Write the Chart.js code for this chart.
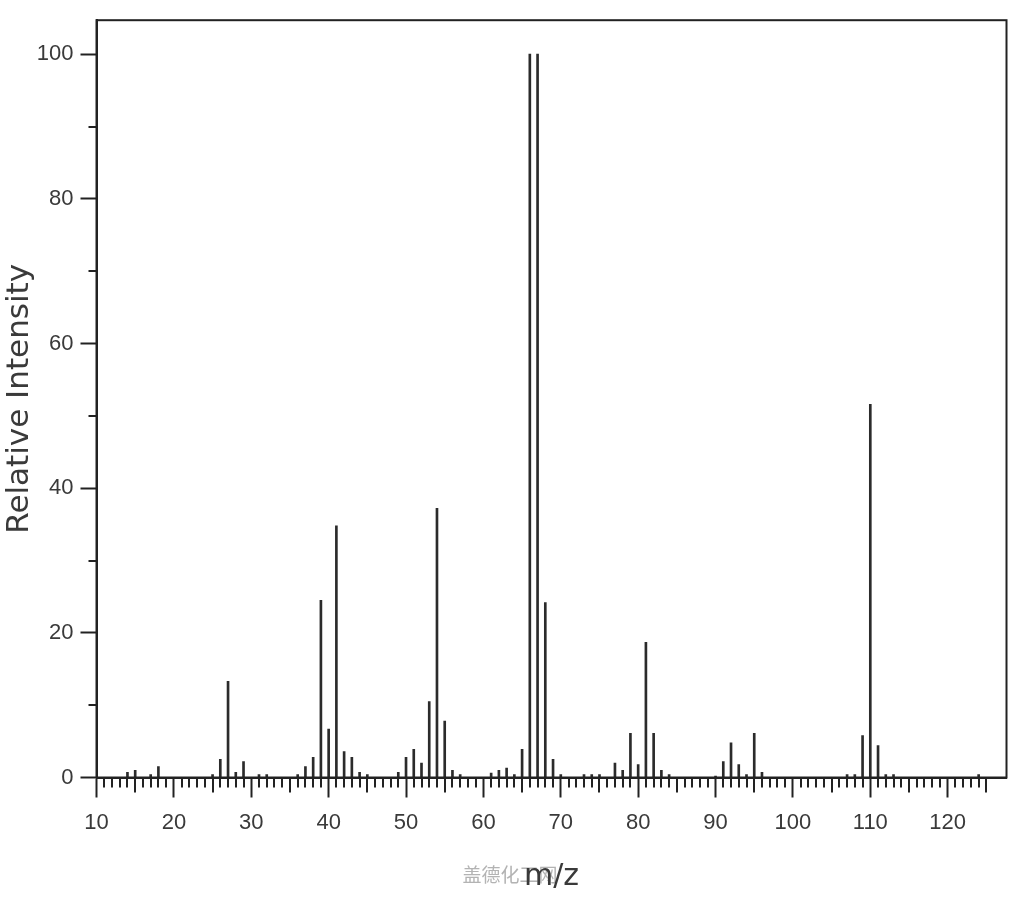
<!DOCTYPE html>
<html>
<head>
<meta charset="utf-8">
<script src="https://cdn.jsdelivr.net/npm/chart.js@4/dist/chart.umd.min.js"></script>
<style>
  body { margin: 0; background: #fff; }
  #wrap { width: 1024px; height: 900px; position: relative; }
</style>
</head>
<body>
<div id="wrap"><canvas id="myChart"></canvas></div>
<script>
// m/z values and relative intensities
const masas = [14, 15, 17, 18, 25, 26, 27, 28, 29, 31, 32, 36, 37, 38, 39, 40, 41, 42, 43, 44, 45,
  49, 50, 51, 52, 53, 54, 55, 56, 57, 61, 62, 63, 64, 65, 66, 67, 68, 69, 70, 73, 74, 75,
  77, 78, 79, 80, 81, 82, 83, 84, 90, 91, 92, 93, 94, 95, 96, 107, 108, 109, 110, 111, 112, 113, 124];
const intensidades = [0.7, 1.0, 0.4, 1.5, 0.4, 2.5, 13.3, 0.7, 2.2, 0.4, 0.4, 0.4, 1.5, 2.8, 24.5, 6.7, 34.8, 3.6, 2.8, 0.7, 0.4,
  0.7, 2.8, 3.9, 2.0, 10.5, 37.2, 7.8, 1.0, 0.4, 0.6, 1.0, 1.3, 0.4, 3.9, 100, 100, 24.2, 2.5, 0.4, 0.4, 0.4, 0.4,
  2.0, 1.0, 6.1, 1.8, 18.7, 6.1, 1.0, 0.4, 0.2, 2.2, 4.8, 1.8, 0.4, 6.1, 0.7, 0.4, 0.4, 5.8, 51.6, 4.4, 0.4, 0.4, 0.4];

const ejeXMin = 10;
const ejeXMax = 127.6;
const ejeXUltimoTick = 125;
const ejeYMax = 104.7;

const tituloX = "m/z";
const tituloY = "Relative Intensity";
const marcaAgua = "盖德化工网";

const colorLinea = "#222222";
const colorTexto = "#3a3a3a";

const puntos = masas.map((m, i) => ({ x: m, y: intensidades[i] }));

// ticks cortos, marco y marca de agua
const extras = {
  id: "extras",
  beforeDraw(chart) {
    const ctx = chart.ctx;
    ctx.save();
    ctx.font = '19px "Noto Sans CJK SC"';
    ctx.fillStyle = "#b3b3b3";
    ctx.textAlign = "center";
    ctx.textBaseline = "middle";
    ctx.fillText(marcaAgua, 510, 875);
    ctx.restore();
  },
  afterDraw(chart) {
    const ctx = chart.ctx;
    const area = chart.chartArea;
    const x = chart.scales.x;
    const y = chart.scales.y;
    ctx.save();
    ctx.strokeStyle = colorLinea;
    ctx.lineWidth = 2;
    ctx.beginPath();
    for (let m = ejeXMin + 1; m <= ejeXUltimoTick; m++) {
      if (m % 10 == 0) continue;
      const px = Math.round(x.getPixelForValue(m));
      const largo = m % 5 == 0 ? 15 : 10;
      ctx.moveTo(px, area.bottom);
      ctx.lineTo(px, area.bottom + largo);
    }
    for (let v = 10; v <= 90; v += 20) {
      const py = Math.round(y.getPixelForValue(v));
      ctx.moveTo(area.left, py);
      ctx.lineTo(area.left - 8, py);
    }
    ctx.stroke();
    ctx.strokeRect(area.left, area.top, area.right - area.left, area.bottom - area.top);
    ctx.restore();
  }
};

new Chart(document.getElementById("myChart"), {
  type: "bar",
  data: {
    datasets: [
      {
        data: puntos,
        backgroundColor: "#2b2b2b",
        barThickness: 2,
      },
    ],
  },
  options: {
    responsive: true,
    maintainAspectRatio: false,
    animation: false,
    layout: { padding: { top: 19, right: 17.5, left: 0, bottom: 0 } },
    plugins: {
      legend: { display: false },
      tooltip: { enabled: false },
    },
    scales: {
      x: {
        type: "linear",
        min: ejeXMin,
        max: ejeXMax,
        offset: false,
        afterFit(scale) { scale.height = 122.5; },
        border: { color: colorLinea, width: 2 },
        grid: {
          offset: false,
          drawOnChartArea: false,
          tickLength: 20,
          tickWidth: 2,
          tickColor: (c) => (c.tick && c.tick.value % 10 == 0 && c.tick.value <= ejeXUltimoTick ? colorLinea : "rgba(0,0,0,0)"),
        },
        ticks: {
          stepSize: 1,
          autoSkip: false,
          includeBounds: false,
          maxRotation: 0,
          padding: 12,
          color: colorTexto,
          font: { family: "Liberation Sans", size: 22 },
          callback: (v) => (v % 10 == 0 && v <= ejeXUltimoTick ? v : ""),
        },
        title: {
          display: true,
          text: tituloX,
          color: colorTexto,
          font: { family: "DejaVu Sans", size: 30 },
          padding: { top: 4, bottom: 5 },
        },
      },
      y: {
        min: 0,
        max: ejeYMax,
        afterFit(scale) { scale.width = 96.5; },
        border: { color: colorLinea, width: 2 },
        grid: {
          drawOnChartArea: false,
          tickLength: 16,
          tickWidth: 2,
          tickColor: (c) => (c.tick && c.tick.value % 20 == 0 ? colorLinea : "rgba(0,0,0,0)"),
        },
        ticks: {
          stepSize: 10,
          autoSkip: false,
          includeBounds: false,
          padding: 7,
          color: colorTexto,
          font: { family: "Liberation Sans", size: 22 },
          callback: (v) => (v % 20 == 0 ? v : ""),
        },
        title: {
          display: true,
          text: tituloY,
          color: colorTexto,
          font: { family: "DejaVu Sans", size: 31 },
          padding: { top: 1, bottom: 4 },
        },
      },
    },
  },
  plugins: [extras],
});
</script>
</body>
</html>
